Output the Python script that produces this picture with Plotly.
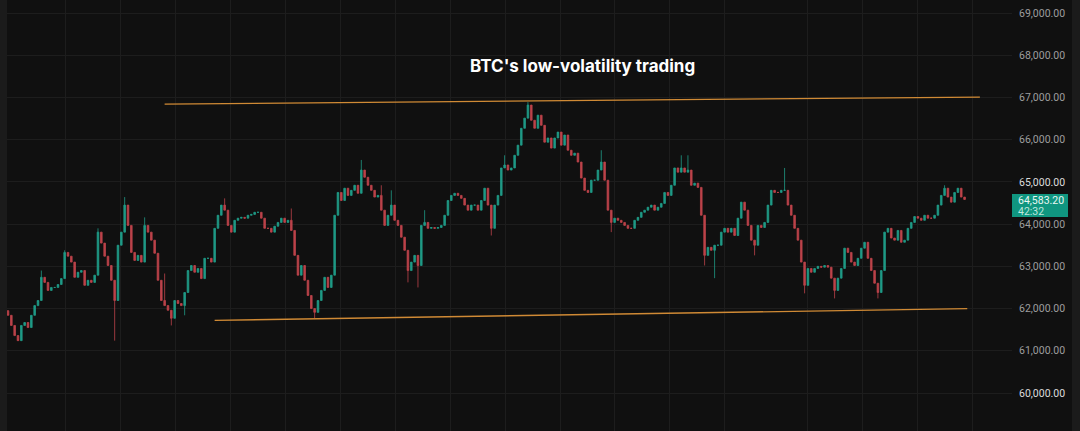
import plotly.graph_objects as go

# closing prices, left to right
closes = [
    61840, 61600, 61360, 61240, 61600, 61670, 61550, 61840, 62070, 62190,
    62740, 62620, 62430, 62500, 62500, 62570, 62710, 63330, 63240, 63100,
    62740, 62860, 62900, 62550, 62670, 62620, 62790, 63810, 63550, 63240,
    63020, 62670, 62190, 63500, 63810, 64450, 63970, 63330, 63140, 63260,
    63100, 63970, 63810, 63620, 63310, 62670, 62190,
    62070, 61960, 61770, 62190, 62120, 62070, 62380, 62900, 63020, 62860,
    62950, 62710, 63190, 63190, 63100, 63900, 64210, 64450, 64330, 63970,
    63810, 64090, 64140, 64160, 64140, 64210, 64230, 64280, 64280, 64140,
    63900, 63900, 63810, 63950, 64040, 64140, 64040, 64090, 63850, 63260,
    62790, 63020, 62670, 62310, 62000, 61910, 62190, 62430,
    62740, 62500, 62790, 64210, 64750, 64560, 64850, 64680, 64800, 64920,
    64730, 65280, 65110, 64920, 64800, 64640, 64680, 64330, 63970, 64210,
    64450, 64090, 63970, 63690, 63380, 62900, 63100, 63260, 63020, 63970,
    64040, 63900, 63920, 63900, 63920, 63970, 64210, 64560, 64680, 64730,
    64680, 64610, 64450, 64330, 64450, 64450, 64330, 64560,
    64850, 64450, 63900, 64450, 64680, 65330, 65400, 65280, 65330, 65630,
    65870, 66270, 66510, 66820, 66460, 66270, 66580, 66340, 65940, 66040,
    65800, 66040, 66180, 65870, 66110, 65750, 65630, 65680, 65470, 65090,
    64800, 64750, 65040, 65040, 65280, 65470, 65040, 64330, 64040, 64140,
    64090, 64040, 63970, 63900, 63900, 64090, 64160, 64280,
    64330, 64400, 64450, 64330, 64400, 64490, 64750, 64680, 64920, 65330,
    65230, 65330, 65230, 65280, 64920, 64970, 64870, 64210, 63260, 63450,
    63380, 63500, 63500, 63810, 63900, 63810, 63900, 63730, 64140, 64520,
    64330, 63970, 63620, 63500, 63970, 63920, 64040, 64450, 64800, 64750,
    64750, 64800, 64800, 64450, 64210, 63900, 63620, 63100,
    62550, 62950, 62860, 62950, 63000, 62980, 63020, 62980, 62720, 62430,
    62720, 62950, 63430, 63330, 63100, 63020, 63190, 63430, 63570, 63190,
    62900, 62600, 62380, 62900, 63810, 63900, 63670, 63620, 63850, 63570,
    63620, 63900, 64040, 64180, 64140, 64090, 64210, 64140, 64140, 64210,
    64450, 64680, 64850, 64640, 64520, 64750, 64850, 64640, 64583.2,
]
first_open = 61950

# wick extremes that stick out of the bodies (candle index: price)
spike_highs = {10: 62900, 17: 63380, 27: 63900, 35: 64640, 41: 64160, 47: 62830,
               65: 64610, 85: 64370, 106: 65520, 112: 64920, 115: 64800, 125: 64330,
               149: 65630, 156: 66890, 178: 65750, 202: 65630, 204: 65630, 233: 65330,
               281: 64920}
spike_lows = {32: 61240, 49: 61600, 53: 61840, 92: 61770, 120: 62620, 123: 62500,
              145: 63730, 181: 63810, 209: 63020, 212: 62720, 224: 63260, 239: 62360,
              248: 62240, 261: 62240}

# channel lines drawn on the chart (candle index, price)
upper_x = [47, 291.6]
upper_y = [66840, 67010]
lower_x = [62, 287.8]
lower_y = [61720, 62000]

last_price = "64,583.20"
countdown = "42:32"
price_ticks = [60000, 61000, 62000, 63000, 64000, 65000, 66000, 67000, 68000, 69000]

n = len(closes)
opens = [first_open] + closes[:-1]
highs = [max(o, c, spike_highs.get(i, 0)) for i, (o, c) in enumerate(zip(opens, closes))]
lows = [min(o, c, spike_lows.get(i, 1e9)) for i, (o, c) in enumerate(zip(opens, closes))]

BG = "#101010"
GRID = "#1d1d1d"

fig = go.Figure()
fig.add_trace(go.Candlestick(
    x=list(range(n)), open=opens, high=highs, low=lows, close=closes,
    increasing=dict(line=dict(color="#1f9a86", width=0.8), fillcolor="#1f9a86"),
    decreasing=dict(line=dict(color="#bc434a", width=0.8), fillcolor="#bc434a"),
    whiskerwidth=0, showlegend=False, hoverinfo="skip",
))
for xs, ys in [(upper_x, upper_y), (lower_x, lower_y)]:
    fig.add_trace(go.Scatter(x=xs, y=ys, mode="lines", line=dict(color="#d08a35", width=1.3),
                             showlegend=False, hoverinfo="skip"))

px_per_candle = 3.333
grid_px = [65, 120, 175, 230, 285, 340, 395, 450, 505, 560, 614, 669, 724, 807, 862, 917, 972]

def lbl(v):
    s = f"{v:,.2f}"
    if v in (60000, 65000):
        return f'<span style="color:#dcdcdc">{s}</span>'
    return s

fig.update_layout(
    width=1080, height=431,
    margin=dict(l=7, r=68, t=0, b=0),
    paper_bgcolor=BG, plot_bgcolor=BG,
    font=dict(family="Roboto, Noto Sans, sans-serif", color="#9e9e9e"),
    xaxis=dict(range=[(7 - 8) / px_per_candle, (1012 - 8) / px_per_candle],
               tickvals=[(p - 8) / px_per_candle for p in grid_px],
               showticklabels=False, showgrid=True, gridcolor=GRID, gridwidth=1,
               zeroline=False, showline=False, rangeslider=dict(visible=False), fixedrange=True),
    yaxis=dict(side="right", range=[59100, 69308], tickvals=price_ticks,
               ticktext=[lbl(v) for v in price_ticks], ticks="", ticklabelstandoff=6,
               showgrid=True, gridcolor=GRID, gridwidth=1, zeroline=False, showline=False,
               tickfont=dict(size=10.5, color="#9e9e9e")),
)

fig.add_annotation(text="<b>BTC's low-volatility trading</b>", xref="paper", yref="paper",
                   x=(582 - 7) / 1005, y=1 - 66 / 431, xanchor="center", yanchor="middle",
                   showarrow=False, font=dict(family="Inter, sans-serif", size=17, color="#ffffff"))

# side strips and last price tag
fig.add_shape(type="rect", xref="paper", yref="paper", x0=-7 / 1005, x1=0, y0=0, y1=1,
              fillcolor="#1b1b1b", line=dict(width=0), layer="below")
fig.add_shape(type="rect", xref="paper", yref="paper", x0=(1072 - 7) / 1005, x1=(1080 - 7) / 1005,
              y0=0, y1=1, fillcolor="#1b1b1b", line=dict(width=0), layer="below")
fig.add_shape(type="rect", xref="paper", yref="paper", x0=(1012 - 7) / 1005, x1=(1068 - 7) / 1005,
              y0=1 - 217 / 431, y1=1 - 194 / 431, fillcolor="#109680", line=dict(width=0))
fig.add_annotation(text=last_price, xref="paper", yref="paper", x=(1016 - 7) / 1005, y=1 - 200 / 431,
                   xanchor="left", yanchor="middle", showarrow=False,
                   font=dict(size=10.5, color="#eaf6f3"))
fig.add_annotation(text=countdown, xref="paper", yref="paper", x=(1016 - 7) / 1005, y=1 - 211.5 / 431,
                   xanchor="left", yanchor="middle", showarrow=False,
                   font=dict(size=10.5, color="#bfe6de"))

# drop the browser's default body margin so the figure sits at the window's corner
fig.write_html("out.html", config={"displayModeBar": False},
               post_script="document.body.style.margin='0';")
